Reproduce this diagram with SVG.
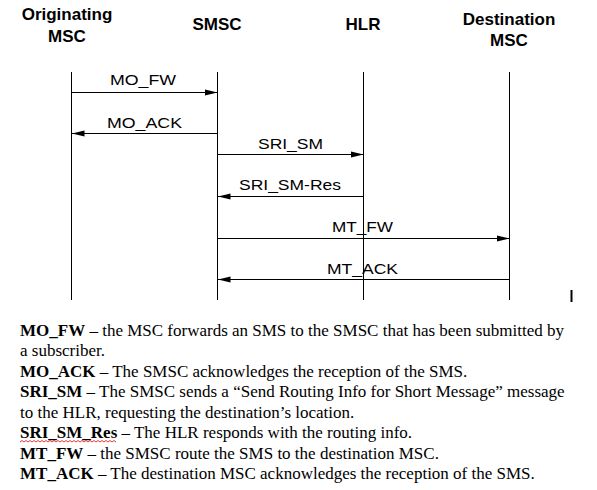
<svg xmlns="http://www.w3.org/2000/svg" width="597" height="490" viewBox="0 0 597 490">
<style>
.title{font-family:"Liberation Sans",Arial,sans-serif;font-weight:bold;font-size:17px;fill:#000;text-anchor:middle}
.lbl{font-family:"Liberation Sans",Arial,sans-serif;font-size:15px;fill:#000}
.life{stroke:#000;stroke-width:1}
.msg{stroke:#000;stroke-width:1;fill:none;marker-end:url(#ah)}
.desc{font-family:"Liberation Serif","Times New Roman",serif;font-size:17px;fill:#000}
.b{font-weight:bold}
</style>
<defs>
<marker id="ah" markerWidth="13" markerHeight="8" refX="13" refY="4" orient="auto" markerUnits="userSpaceOnUse">
<path d="M0,1 L13,4 L0,7 Z" fill="#000"/>
</marker>
</defs>
<rect width="597" height="490" fill="#fff"/>
<g id="node-orig">
<text class="title" x="67" y="20">Originating</text>
<text class="title" x="67" y="42">MSC</text>
<line class="life" x1="71.5" y1="72" x2="71.5" y2="300"/>
</g>
<g id="node-smsc">
<text class="title" x="217" y="30">SMSC</text>
<line class="life" x1="217.5" y1="72" x2="217.5" y2="300"/>
</g>
<g id="node-hlr">
<text class="title" x="363" y="30">HLR</text>
<line class="life" x1="363.5" y1="72" x2="363.5" y2="300"/>
</g>
<g id="node-dest">
<text class="title" x="509" y="25">Destination</text>
<text class="title" x="509" y="46">MSC</text>
<line class="life" x1="509.5" y1="72" x2="509.5" y2="300"/>
</g>
<g id="connectors">
<line class="msg" x1="71.5" y1="92.5" x2="217.5" y2="92.5"/>
<text class="lbl" x="110" y="85" textLength="66" lengthAdjust="spacingAndGlyphs">MO_FW</text>
<line class="msg" x1="217.5" y1="133.5" x2="71.5" y2="133.5"/>
<text class="lbl" x="107" y="128" textLength="75" lengthAdjust="spacingAndGlyphs">MO_ACK</text>
<line class="msg" x1="217.5" y1="154.5" x2="363.5" y2="154.5"/>
<text class="lbl" x="258" y="149" textLength="65" lengthAdjust="spacingAndGlyphs">SRI_SM</text>
<line class="msg" x1="363.5" y1="196.5" x2="217.5" y2="196.5"/>
<text class="lbl" x="239" y="190" textLength="102" lengthAdjust="spacingAndGlyphs">SRI_SM-Res</text>
<line class="msg" x1="217.5" y1="238.5" x2="509.5" y2="238.5"/>
<text class="lbl" x="332" y="232" textLength="61" lengthAdjust="spacingAndGlyphs">MT_FW</text>
<line class="msg" x1="509.5" y1="279.5" x2="217.5" y2="279.5"/>
<text class="lbl" x="327" y="274" textLength="71" lengthAdjust="spacingAndGlyphs">MT_ACK</text>
</g>
<line x1="571.5" y1="290" x2="571.5" y2="302" stroke="#000" stroke-width="2"/>
<g id="legend">
<text class="desc" x="20" y="335.5"><tspan class="b">MO_FW</tspan> – the MSC forwards an SMS to the SMSC that has been submitted by</text>
<text class="desc" x="20" y="356">a subscriber.</text>
<text class="desc" x="20" y="376.5"><tspan class="b">MO_ACK</tspan> – The SMSC acknowledges the reception of the SMS.</text>
<text class="desc" x="20" y="397"><tspan class="b">SRI_SM</tspan> – The SMSC sends a “Send Routing Info for Short Message” message</text>
<text class="desc" x="20" y="417.5">to the HLR, requesting the destination’s location.</text>
<text class="desc" x="20" y="438"><tspan class="b">SRI_SM_Res</tspan> – The HLR responds with the routing info.</text>
<path d="M20,442 l2,-1.5 l2,1.5 l2,-1.5 l2,1.5 l2,-1.5 l2,1.5 l2,-1.5 l2,1.5 l2,-1.5 l2,1.5 l2,-1.5 l2,1.5 l2,-1.5 l2,1.5 l2,-1.5 l2,1.5 l2,-1.5 l2,1.5 l2,-1.5 l2,1.5 l2,-1.5 l2,1.5 l2,-1.5 l2,1.5 l2,-1.5 l2,1.5 l2,-1.5 l2,1.5 l2,-1.5 l2,1.5 l2,-1.5 l2,1.5 l2,-1.5 l2,1.5 l2,-1.5 l2,1.5 l2,-1.5 l2,1.5 l2,-1.5 l2,1.5 l2,-1.5 l2,1.5 l2,-1.5 l2,1.5 l2,-1.5 l2,1.5 l2,-1.5 l2,1.5" fill="none" stroke="#e00" stroke-width="0.8"/>
<text class="desc" x="20" y="458.5"><tspan class="b">MT_FW</tspan> – the SMSC route the SMS to the destination MSC.</text>
<text class="desc" x="20" y="479"><tspan class="b">MT_ACK</tspan> – The destination MSC acknowledges the reception of the SMS.</text>
</g>
</svg>
